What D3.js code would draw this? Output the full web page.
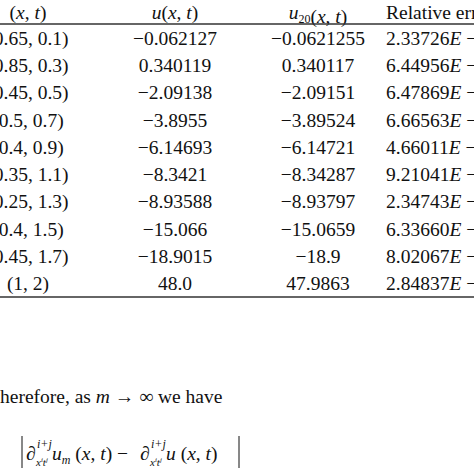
<!DOCTYPE html>
<head>
  <meta charset="utf-8">
  <style>
    body { margin: 0; background: #fff; }
    text { font-family: "Liberation Serif", "DejaVu Serif", serif; font-size: 19.5px; fill: #111; }
    .it { font-style: italic; }
    .sm { font-size: 12px; }
  </style>
</head>
<body>
  <svg width="474" height="474"></svg>
  <script src="https://d3js.org/d3.v7.min.js"></script>
  <script>
  var points = ["(0.65, 0.1)", "(0.85, 0.3)", "(0.45, 0.5)", "(0.5, 0.7)", "(0.4, 0.9)",
                "(0.35, 1.1)", "(0.25, 1.3)", "(0.4, 1.5)", "(0.45, 1.7)", "(1, 2)"];
  var uExact = ["\u22120.062127", "0.340119", "\u22122.09138", "\u22123.8955", "\u22126.14693",
                "\u22128.3421", "\u22128.93588", "\u221215.066", "\u221218.9015", "48.0"];
  var uApprox = ["\u22120.0621255", "0.340117", "\u22122.09151", "\u22123.89524", "\u22126.14721",
                 "\u22128.34287", "\u22128.93797", "\u221215.0659", "\u221218.9", "47.9863"];
  var errMant = ["2.33726", "6.44956", "6.47869", "6.66563", "4.66011",
                 "9.21041", "2.34743", "6.33660", "8.02067", "2.84837"];

  var svg = d3.select("svg");
  var y = d3.scaleBand().domain(d3.range(points.length)).range([24, 297]);

  function xt(sel) {
    sel.append("tspan").text("(");
    sel.append("tspan").attr("class", "it").text("x");
    sel.append("tspan").text(", ");
    sel.append("tspan").attr("class", "it").text("t");
    sel.append("tspan").text(")");
  }

  // header
  xt(svg.append("text").attr("x", 28).attr("y", 19).attr("text-anchor", "middle"));
  var t2 = svg.append("text").attr("x", 175).attr("y", 19).attr("text-anchor", "middle");
  t2.append("tspan").attr("class", "it").text("u");
  xt(t2);
  var t3 = svg.append("text").attr("x", 318).attr("y", 19).attr("text-anchor", "middle");
  t3.append("tspan").attr("class", "it").text("u");
  t3.append("tspan").attr("class", "sm").attr("dy", 4).text("20");
  var t3b = t3.append("tspan").attr("dy", -4);
  xt(t3);
  svg.append("text").attr("x", 386).attr("y", 19).text("Relative error");

  y.range().forEach(function(v) {
    svg.append("line").attr("x1", 0).attr("x2", 474).attr("y1", v).attr("y2", v)
      .attr("stroke", "#333").attr("stroke-width", 1.6);
  });

  var rows = svg.selectAll(".row").data(d3.range(points.length)).enter().append("g")
    .attr("class", "row")
    .attr("transform", function(i) { return "translate(0," + (y(i) + y.bandwidth() / 2 + 7) + ")"; });

  rows.append("text").attr("x", 28).attr("text-anchor", "middle").text(function(i) { return points[i]; });
  rows.append("text").attr("x", 175).attr("text-anchor", "middle").text(function(i) { return uExact[i]; });
  rows.append("text").attr("x", 318).attr("text-anchor", "middle").text(function(i) { return uApprox[i]; });
  var e = rows.append("text").attr("x", 386);
  e.append("tspan").text(function(i) { return errMant[i]; });
  e.append("tspan").attr("class", "it").text("E");
  e.append("tspan").text(" \u2212 07");

  // text below the table
  var p = svg.append("text").attr("x", 0).attr("y", 403);
  p.append("tspan").text("herefore, as ");
  p.append("tspan").attr("class", "it").text("m");
  p.append("tspan").text(" \u2192 \u221e we have");

  // |d^{i+j}_{x^i t^j} u_m (x,t) - d^{i+j}_{x^i t^j} u (x,t)|
  var f = svg.append("g");
  [22, 239].forEach(function(x) {
    f.append("line").attr("x1", x).attr("x2", x).attr("y1", 436).attr("y2", 468)
      .attr("stroke", "#111").attr("stroke-width", 1);
  });
  function partial(x) {
    f.append("text").attr("x", x).attr("y", 460).text("\u2202");
    f.append("text").attr("class", "it sm").attr("x", x + 11).attr("y", 448).text("i+j");
    var s = f.append("text").attr("class", "it").attr("x", x + 10).attr("y", 466).style("font-size", "11px");
    s.append("tspan").text("x");
    s.append("tspan").attr("dy", -4).style("font-size", "7px").text("i");
    s.append("tspan").attr("dy", 4).text("t");
    s.append("tspan").attr("dy", -4).style("font-size", "7px").text("j");
  }
  partial(26);
  var a = f.append("text").attr("x", 52).attr("y", 460);
  a.append("tspan").attr("class", "it").text("u");
  a.append("tspan").attr("class", "it sm").attr("dy", 4).text("m");
  a.append("tspan").attr("dy", -4).text(" ");
  xt(a);
  a.append("tspan").text(" \u2212");
  partial(140);
  var b = f.append("text").attr("x", 166).attr("y", 460);
  b.append("tspan").attr("class", "it").text("u");
  b.append("tspan").text(" ");
  xt(b);
  </script>
</body>
</html>
